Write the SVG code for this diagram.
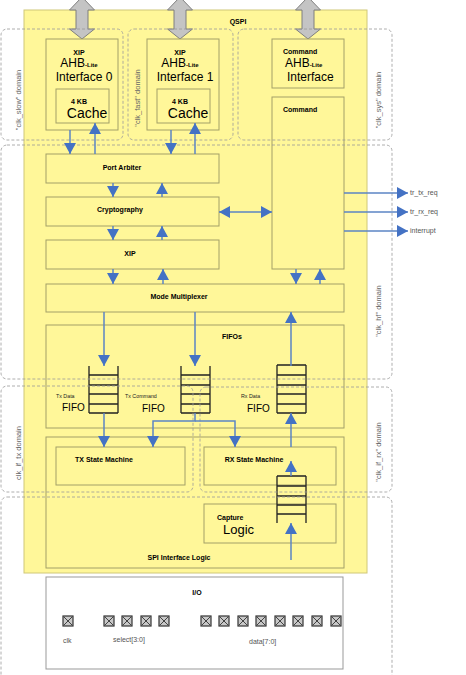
<svg xmlns="http://www.w3.org/2000/svg" width="466" height="675" viewBox="0 0 466 675">
<style>
text{font-family:"Liberation Sans",Arial,sans-serif;fill:#000}
.box{fill:#fff799;stroke:#a3a068;stroke-width:1}
.b7{font-size:7px;font-weight:bold}
.big{font-size:12px}
.cache{font-size:14px}
.tiny{font-size:5.3px;fill:#222}
.fifo{font-size:10px}
.dom{fill:none;stroke:#9a9a9a;stroke-width:0.8;stroke-dasharray:3 2}
.dl{font-size:7.5px;fill:#666}
.stk{fill:none;stroke:#222;stroke-width:1.3}
.cn{fill:none;stroke:#5b85c5;stroke-width:1.5}
.ar{marker-end:url(#ah)}
.io{font-size:7px;fill:#555}
.pad{fill:#c8c8c8;stroke:#333;stroke-width:1.2}
.padx{stroke:#333;stroke-width:0.9}
.dbl{fill:#c4c4c4;stroke:#7f7f7f;stroke-width:1}
</style>
<defs>
<marker id="ah" viewBox="0 0 11 12" refX="11" refY="6" markerWidth="11" markerHeight="12" markerUnits="userSpaceOnUse" orient="auto-start-reverse"><path d="M0,0 L11,6 L0,12 z" fill="#4472c4"/></marker>
<g id="padg"><rect class="pad" x="0" y="0" width="10" height="10"/><path class="padx" d="M1,1 L9,9 M9,1 L1,9"/></g>
</defs>
<rect width="466" height="675" fill="#fff"/>

<g id="qspi">
<rect x="24" y="10" width="343" height="563" fill="#fff799" stroke="#d0c878" stroke-width="1"/>
<text class="b7" x="238" y="24" text-anchor="middle">QSPI</text>
</g>

<g id="bus-arrows">
<polygon class="dbl" points="82,-3 94.5,10 88,10 88,29 94.5,29 82,39 69.5,29 76,29 76,10 69.5,10"/>
<polygon class="dbl" points="180,-3 192.5,10 186,10 186,29 192.5,29 180,39 167.5,29 174,29 174,10 167.5,10"/>
<polygon class="dbl" points="308,-3 320.5,10 314,10 314,29 320.5,29 308,39 295.5,29 302,29 302,10 295.5,10"/>
</g>

<g id="xip-ahb0">
<rect class="box" x="46" y="39" width="72" height="91"/>
<text class="b7" x="79" y="55" text-anchor="middle">XIP</text>
<text x="79" y="67" text-anchor="middle"><tspan class="big">AHB</tspan><tspan style="font-size:6px;font-weight:bold">-Lite</tspan></text>
<text class="big" x="84" y="81" text-anchor="middle">Interface 0</text>
</g>
<g id="cache0">
<rect class="box" x="56" y="89" width="53" height="34"/>
<text class="b7" x="79" y="104" text-anchor="middle">4 KB</text>
<text class="cache" x="87" y="118" text-anchor="middle">Cache</text>
</g>

<g id="xip-ahb1">
<rect class="box" x="147" y="39" width="72" height="91"/>
<text class="b7" x="180" y="55" text-anchor="middle">XIP</text>
<text x="180" y="67" text-anchor="middle"><tspan class="big">AHB</tspan><tspan style="font-size:6px;font-weight:bold">-Lite</tspan></text>
<text class="big" x="185" y="81" text-anchor="middle">Interface 1</text>
</g>
<g id="cache1">
<rect class="box" x="157" y="89" width="53" height="34"/>
<text class="b7" x="180" y="104" text-anchor="middle">4 KB</text>
<text class="cache" x="188" y="118" text-anchor="middle">Cache</text>
</g>

<g id="cmd-ahb">
<rect class="box" x="272" y="39" width="72" height="49"/>
<text class="b7" x="283" y="54">Command</text>
<text x="285" y="67"><tspan class="big">AHB</tspan><tspan style="font-size:6px;font-weight:bold">-Lite</tspan></text>
<text class="big" x="287" y="81">Interface</text>
</g>

<g id="command">
<rect class="box" x="272" y="97" width="72" height="172"/>
<text class="b7" x="283" y="112">Command</text>
</g>

<g id="port-arbiter">
<rect class="box" x="46" y="154" width="173" height="29"/>
<text class="b7" x="122" y="170" text-anchor="middle">Port Arbiter</text>
</g>
<g id="cryptography">
<rect class="box" x="46" y="197" width="173" height="29"/>
<text class="b7" x="120" y="212" text-anchor="middle">Cryptography</text>
</g>
<g id="xip">
<rect class="box" x="46" y="240" width="173" height="29"/>
<text class="b7" x="130" y="256" text-anchor="middle">XIP</text>
</g>
<g id="mode-mux">
<rect class="box" x="46" y="284" width="298" height="28"/>
<text class="b7" x="179" y="299" text-anchor="middle">Mode Multiplexer</text>
</g>

<g id="fifos">
<rect class="box" x="46" y="325" width="298" height="103"/>
<text class="b7" x="222" y="339">FIFOs</text>
</g>
<g id="tx-data-fifo">
<path class="stk" d="M89,366 V413 M118,366 V413 M89,375 H118 M89,385 H118 M89,394 H118 M89,404 H118 M89,413 H118"/>
<text class="tiny" x="56" y="398">Tx Data</text>
<text class="fifo" x="62" y="411">FIFO</text>
</g>
<g id="tx-cmd-fifo">
<path class="stk" d="M181,366 V413 M210,366 V413 M181,375 H210 M181,385 H210 M181,394 H210 M181,404 H210 M181,413 H210"/>
<text class="tiny" x="125" y="398">Tx Command</text>
<text class="fifo" x="142" y="412">FIFO</text>
</g>
<g id="rx-data-fifo">
<path class="stk" d="M277,365 V413 M306,365 V413 M277,365 H306 M277,375 H306 M277,385 H306 M277,394 H306 M277,404 H306 M277,413 H306"/>
<text class="tiny" x="241" y="398">Rx Data</text>
<text class="fifo" x="247" y="412">FIFO</text>
</g>

<g id="spi-logic">
<rect class="box" x="46" y="437" width="298" height="131"/>
<text class="b7" x="179" y="560" text-anchor="middle">SPI Interface Logic</text>
</g>
<g id="tx-sm">
<rect class="box" x="56" y="447" width="129" height="38"/>
<text class="b7" x="104" y="462" text-anchor="middle">TX State Machine</text>
</g>
<g id="rx-sm">
<rect class="box" x="204" y="447" width="132" height="38"/>
<text class="b7" x="254" y="462" text-anchor="middle">RX State Machine</text>
</g>
<g id="capture">
<rect class="box" x="204" y="504" width="132" height="39"/>
<text class="b7" x="217" y="520">Capture</text>
<text style="font-size:13px" x="223" y="534">Logic</text>
</g>
<g id="capture-fifo">
<path class="stk" d="M277,476 V523 M306,476 V523 M277,476 H306 M277,486 H306 M277,496 H306 M277,505 H306 M277,514 H306"/>
</g>

<g id="io">
<rect x="46" y="577" width="297" height="92" fill="#fff" stroke="#999" stroke-width="1"/>
<text class="b7" x="197" y="595" text-anchor="middle">I/O</text>
<use href="#padg" x="63" y="616"/>
<use href="#padg" x="104" y="616"/>
<use href="#padg" x="122" y="616"/>
<use href="#padg" x="141" y="616"/>
<use href="#padg" x="159" y="616"/>
<use href="#padg" x="201" y="616"/>
<use href="#padg" x="219" y="616"/>
<use href="#padg" x="238" y="616"/>
<use href="#padg" x="256" y="616"/>
<use href="#padg" x="275" y="616"/>
<use href="#padg" x="293" y="616"/>
<use href="#padg" x="312" y="616"/>
<use href="#padg" x="331" y="616"/>
<text class="io" x="63" y="643">clk</text>
<text class="io" x="113" y="642">select[3:0]</text>
<text class="io" x="249" y="644">data[7:0]</text>
</g>

<g id="domains">
<rect class="dom" x="1" y="29" width="122" height="111" rx="6"/>
<rect class="dom" x="128" y="29" width="105" height="111" rx="6"/>
<rect class="dom" x="238" y="29" width="154" height="111" rx="6"/>
<rect class="dom" x="1" y="145" width="391" height="234" rx="6"/>
<rect class="dom" x="1" y="386" width="192" height="106" rx="6"/>
<rect class="dom" x="200" y="387" width="192" height="105" rx="6"/>
<rect class="dom" x="1" y="497" width="391" height="190" rx="6"/>
<text class="dl" x="21" y="100" text-anchor="middle" transform="rotate(-90 21 100)">"clk_slow" domain</text>
<text class="dl" x="140" y="98" text-anchor="middle" transform="rotate(-90 140 98)">"clk_fast" domain</text>
<text class="dl" x="381" y="100" text-anchor="middle" transform="rotate(-90 381 100)">"clk_sys" domain</text>
<text class="dl" x="381" y="311" text-anchor="middle" transform="rotate(-90 381 311)">"clk_hf" domain</text>
<text class="dl" x="21" y="453" text-anchor="middle" transform="rotate(-90 21 453)">clk_if_tx domain</text>
<text class="dl" x="381" y="452" text-anchor="middle" transform="rotate(-90 381 452)">"clk_if_rx" domain</text>
</g>

<g id="connectors">
<path class="cn ar" d="M70,130 V154"/>
<path class="cn ar" d="M95,154 V123"/>
<path class="cn ar" d="M171,130 V154"/>
<path class="cn ar" d="M195,154 V123"/>
<path class="cn ar" d="M113,183 V197"/>
<path class="cn ar" d="M162,197 V183"/>
<path class="cn ar" d="M113,226 V240"/>
<path class="cn ar" d="M162,240 V226"/>
<path class="cn ar" d="M113,269 V284"/>
<path class="cn ar" d="M163,284 V269"/>
<path class="cn ar" d="M219,212 H272" marker-start="url(#ah)"/>
<path class="cn ar" d="M296,269 V284"/>
<path class="cn ar" d="M320,284 V269"/>
<path class="cn ar" d="M344,193 H408"/>
<path class="cn ar" d="M344,212 H408"/>
<path class="cn ar" d="M344,231 H408"/>
<path class="cn ar" d="M104,312 V366"/>
<path class="cn ar" d="M195,312 V366"/>
<path class="cn ar" d="M291,366 V312"/>
<path class="cn ar" d="M104,413 V447"/>
<path class="cn ar" d="M195,413 V421 H153 V447"/>
<path class="cn ar" d="M195,421 H235 V447"/>
<path class="cn ar" d="M291,447 V413"/>
<path class="cn ar" d="M291,476 V461"/>
<path class="cn ar" d="M291,560 V523"/>
<text class="io" x="410" y="195">tr_tx_req</text>
<text class="io" x="410" y="214">tr_rx_req</text>
<text class="io" x="410" y="233">interrupt</text>
</g>
</svg>
